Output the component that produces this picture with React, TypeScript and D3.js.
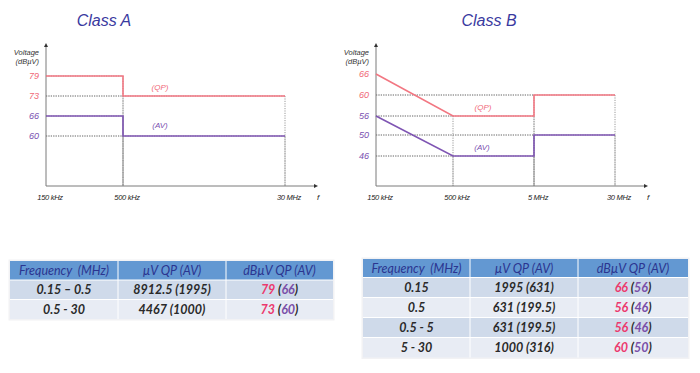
import React from "react";
import * as d3 from "d3";

// ---------- Data ----------
const freqValues = [0.15, 0.5, 5, 30]; // MHz
const freqLabelsA = ["150 kHz", "500 kHz", "30 MHz"];
const freqTicksA = [0.15, 0.5, 30];
const freqLabelsB = ["150 kHz", "500 kHz", "5 MHz", "30 MHz"];
const freqTicksB = [0.15, 0.5, 5, 30];

const levelsA = [60, 66, 73, 79];
const levelsB = [46, 50, 56, 60, 66];
const qpLevelsA = [79, 73];
const qpLevelsB = [66, 60];

const classAQP = [
  { f: 0.15, v: 79 }, { f: 0.5, v: 79 }, { f: 0.5, v: 73 }, { f: 30, v: 73 },
];
const classAAV = [
  { f: 0.15, v: 66 }, { f: 0.5, v: 66 }, { f: 0.5, v: 60 }, { f: 30, v: 60 },
];
const classBQP = [
  { f: 0.15, v: 66 }, { f: 0.5, v: 56 }, { f: 5, v: 56 }, { f: 5, v: 60 }, { f: 30, v: 60 },
];
const classBAV = [
  { f: 0.15, v: 56 }, { f: 0.5, v: 46 }, { f: 5, v: 46 }, { f: 5, v: 50 }, { f: 30, v: 50 },
];

const tableHeaders = ["Frequency  (MHz)", "µV QP (AV)", "dBµV QP (AV)"];
const tableAFreq = ["0.15 – 0.5", "0.5 - 30"];
const tableAuV = ["8912.5 (1995)", "4467 (1000)"];
const tableAQP = ["79", "73"];
const tableAAV = ["66", "60"];
const tableBFreq = ["0.15", "0.5", "0.5 - 5", "5 - 30"];
const tableBuV = ["1995 (631)", "631 (199.5)", "631 (199.5)", "1000 (316)"];
const tableBQP = ["66", "56", "56", "60"];
const tableBAV = ["56", "46", "46", "50"];

// ---------- Styles ----------
const QP_COLOR = "#f27782";
const AV_COLOR = "#7f55b3";
const QP_TEXT = "#f06878";
const AV_TEXT = "#7a4fb0";
const TITLE_COLOR = "#3a3aa0";
const AXIS_COLOR = "#7a7a7a";
const GRID_COLOR = "#8f8f8f";
const CHART_FONT = "'Liberation Sans', Arial, sans-serif";
const TABLE_FONT = "Lato, 'Open Sans', sans-serif";

type Pt = { f: number; v: number };

function Chart(props: {
  title: string;
  titleX: number;
  xRange: number[];
  yDomain: number[];
  yRange: number[];
  ticks: number[];
  tickLabels: string[];
  qpLevels: number[];
  qp: Pt[];
  av: Pt[];
  qpLabel: [number, number];
  avLabel: [number, number];
  axisEndX: number;
  voltX: number;
}) {
  const x = d3.scaleLinear().domain(freqValues).range(props.xRange);
  const y = d3.scaleLinear().domain(props.yDomain).range(props.yRange);
  const x0 = x(0.15);
  const yAxis = 186;
  const yTop = 43;
  const line = d3
    .line<Pt>()
    .x((d) => x(d.f))
    .y((d) => y(d.v));

  const grid: { x1: number; y1: number; x2: number; y2: number }[] = [];
  [...props.qp, ...props.av].forEach((p) => {
    if (p.f === 0.15) return;
    grid.push({ x1: x0, y1: y(p.v), x2: x(p.f), y2: y(p.v) });
    grid.push({ x1: x(p.f), y1: y(p.v), x2: x(p.f), y2: yAxis });
  });

  return (
    <g>
      <text
        x={props.titleX}
        y={26}
        textAnchor="middle"
        fontFamily={CHART_FONT}
        fontStyle="italic"
        fontSize={16}
        fill={TITLE_COLOR}
      >
        {props.title}
      </text>
      <text x={props.voltX} y={55} textAnchor="end" fontFamily={CHART_FONT} fontStyle="italic" fontSize={7.5} fill="#333">
        Voltage
      </text>
      <text x={props.voltX} y={64} textAnchor="end" fontFamily={CHART_FONT} fontStyle="italic" fontSize={7.5} fill="#333">
        (dBµV)
      </text>
      {grid.map((g, i) => (
        <line
          key={i}
          x1={g.x1}
          y1={g.y1}
          x2={g.x2}
          y2={g.y2}
          stroke={GRID_COLOR}
          strokeWidth={0.9}
          strokeDasharray="1.2,1.2"
        />
      ))}
      {/* axes */}
      <line x1={x0} y1={yAxis} x2={x0} y2={yTop + 3} stroke={AXIS_COLOR} strokeWidth={1} />
      <path d={`M${x0 - 2},${yTop + 4} L${x0},${yTop} L${x0 + 2},${yTop + 4} Z`} fill="#333" />
      <line x1={x0} y1={yAxis} x2={props.axisEndX - 3} y2={yAxis} stroke={AXIS_COLOR} strokeWidth={1} />
      <path
        d={`M${props.axisEndX - 4},${yAxis - 2} L${props.axisEndX},${yAxis} L${props.axisEndX - 4},${yAxis + 2} Z`}
        fill="#333"
      />
      <path d={line(props.qp) || ""} fill="none" stroke={QP_COLOR} strokeWidth={1.6} />
      <path d={line(props.av) || ""} fill="none" stroke={AV_COLOR} strokeWidth={1.6} />
      {props.yDomain.map((v) => (
        <text
          key={v}
          x={x0 - 7}
          y={y(v) + 3}
          textAnchor="end"
          fontFamily={CHART_FONT}
          fontStyle="italic"
          fontSize={9}
          fill={props.qpLevels.includes(v) ? QP_TEXT : AV_TEXT}
        >
          {v}
        </text>
      ))}
      {props.ticks.map((t, i) => (
        <text
          key={t}
          x={x(t) + 4}
          y={200}
          textAnchor="middle"
          fontFamily={CHART_FONT}
          fontStyle="italic"
          fontSize={7.5}
          letterSpacing={-0.3}
          fill="#222"
        >
          {props.tickLabels[i]}
        </text>
      ))}
      <text x={props.axisEndX - 1} y={200} fontFamily={CHART_FONT} fontStyle="italic" fontSize={8} fill="#222">
        f
      </text>
      <text x={props.qpLabel[0]} y={props.qpLabel[1]} textAnchor="middle" fontFamily={CHART_FONT} fontStyle="italic" fontSize={8} fill={QP_TEXT}>
        (QP)
      </text>
      <text x={props.avLabel[0]} y={props.avLabel[1]} textAnchor="middle" fontFamily={CHART_FONT} fontStyle="italic" fontSize={8} fill={AV_TEXT}>
        (AV)
      </text>
    </g>
  );
}

function Table(props: {
  x: number;
  y: number;
  colW: number[];
  headH: number;
  rowH: number;
  freq: string[];
  uv: string[];
  qp: string[];
  av: string[];
}) {
  const { x, y, colW, headH, rowH } = props;
  const totalW = colW.reduce((a, b) => a + b, 0);
  const colX = colW.map((_, i) => x + colW.slice(0, i).reduce((a, b) => a + b, 0));
  const nRows = props.freq.length;
  const totalH = headH + nRows * rowH;
  const rowsY = d3.range(nRows).map((i) => y + headH + i * rowH);
  return (
    <g>
      <rect x={x - 1.5} y={y - 1.5} width={totalW + 3} height={totalH + 3} fill="#f2f2f4" />
      <rect x={x} y={y} width={totalW} height={headH} fill="#6398d2" />
      {rowsY.map((ry, i) => (
        <rect key={i} x={x} y={ry} width={totalW} height={rowH} fill={i % 2 === 0 ? "#cfdaea" : "#e8ecf4"} />
      ))}
      {/* separators */}
      {rowsY.map((ry, i) => (
        <line key={"h" + i} x1={x} x2={x + totalW} y1={ry} y2={ry} stroke="#ffffff" strokeWidth={1} />
      ))}
      {colX.slice(1).map((cx, i) => (
        <line key={"v" + i} x1={cx} x2={cx} y1={y} y2={y + totalH} stroke="#ffffff" strokeWidth={1} />
      ))}
      {tableHeaders.map((h, i) => (
        <text
          key={h}
          x={colX[i] + colW[i] / 2}
          y={y + headH / 2 + 4.5}
          textAnchor="middle"
          fontFamily={TABLE_FONT}
          fontStyle="italic"
          fontSize={12.5}
          fill="#2b3590"
          style={{ whiteSpace: "pre" }}
        >
          {h}
        </text>
      ))}
      {rowsY.map((ry, i) => (
        <g key={"r" + i} fontFamily={TABLE_FONT} fontStyle="italic" fontWeight={700} fontSize={12.5}>
          <text x={colX[0] + colW[0] / 2} y={ry + rowH / 2 + 4.5} textAnchor="middle" fill="#2a2a2a">
            {props.freq[i]}
          </text>
          <text x={colX[1] + colW[1] / 2} y={ry + rowH / 2 + 4.5} textAnchor="middle" fill="#2a2a2a">
            {props.uv[i]}
          </text>
          <text x={colX[2] + colW[2] / 2} y={ry + rowH / 2 + 4.5} textAnchor="middle" fill="#2a2a2a">
            <tspan fill="#ec3a6e">{props.qp[i]}</tspan>
            <tspan> (</tspan>
            <tspan fill="#7a4fa8">{props.av[i]}</tspan>
            <tspan>)</tspan>
          </text>
        </g>
      ))}
    </g>
  );
}

export default function App() {
  return (
    <div style={{ position: "absolute", left: 0, top: 0 }}>
      <svg width={700} height={373} style={{ display: "block", background: "#ffffff" }}>
        <Chart
          title="Class A"
          titleX={104}
          xRange={[46, 123, 204, 285]}
          yDomain={levelsA}
          yRange={[136, 116, 96, 76]}
          ticks={freqTicksA}
          tickLabels={freqLabelsA}
          qpLevels={qpLevelsA}
          qp={classAQP}
          av={classAAV}
          qpLabel={[160, 90]}
          avLabel={[160, 128]}
          axisEndX={318}
          voltX={39}
        />
        <Chart
          title="Class B"
          titleX={489}
          xRange={[376, 453, 534, 615]}
          yDomain={levelsB}
          yRange={[156, 135, 116, 95, 74]}
          ticks={freqTicksB}
          tickLabels={freqLabelsB}
          qpLevels={qpLevelsB}
          qp={classBQP}
          av={classBAV}
          qpLabel={[483, 110]}
          avLabel={[482, 150]}
          axisEndX={648}
          voltX={369}
        />
        <Table
          x={10}
          y={261}
          colW={[108, 108, 107]}
          headH={19}
          rowH={19.5}
          freq={tableAFreq}
          uv={tableAuV}
          qp={tableAQP}
          av={tableAAV}
        />
        <Table
          x={363}
          y={259}
          colW={[107, 108, 110]}
          headH={18.5}
          rowH={20}
          freq={tableBFreq}
          uv={tableBuV}
          qp={tableBQP}
          av={tableBAV}
        />
      </svg>
    </div>
  );
}
